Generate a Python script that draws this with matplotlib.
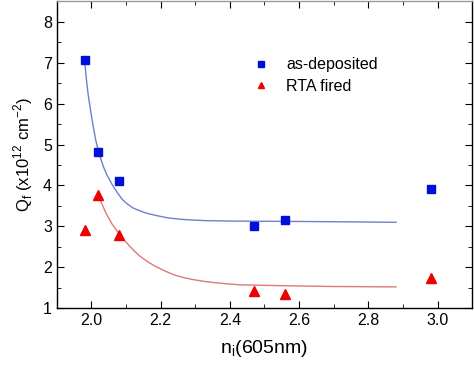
import matplotlib
matplotlib.use("Agg")
import matplotlib.pyplot as plt
from matplotlib.ticker import MultipleLocator

plt.rcParams["font.family"] = ["Liberation Sans", "DejaVu Sans"]

# measured points
n_dep = [1.98, 2.02, 2.08, 2.47, 2.56, 2.98]
q_dep = [7.07, 4.83, 4.12, 3.02, 3.15, 3.92]
n_rta = [1.98, 2.02, 2.08, 2.47, 2.56, 2.98]
q_rta = [2.90, 3.77, 2.80, 1.42, 1.35, 1.75]

# fit curves
fit_dep_x = [1.98, 1.985, 1.99, 1.998, 2.005, 2.012, 2.02, 2.028, 2.035, 2.045, 2.06, 2.075,
             2.09, 2.105, 2.12, 2.14, 2.16, 2.19, 2.22, 2.25, 2.28, 2.33, 2.4, 2.5, 2.6, 2.75, 2.88]
fit_dep_y = [7.07, 6.62, 6.25, 5.80, 5.45, 5.12, 4.84, 4.62, 4.45, 4.25, 4.02, 3.82,
             3.65, 3.54, 3.45, 3.38, 3.32, 3.26, 3.21, 3.18, 3.16, 3.14, 3.13, 3.125, 3.12, 3.11, 3.10]
fit_rta_x = [2.02, 2.03, 2.04, 2.05, 2.06, 2.07, 2.08, 2.095, 2.11, 2.125, 2.14, 2.165, 2.19,
             2.215, 2.24, 2.27, 2.3, 2.33, 2.36, 2.4, 2.43, 2.49, 2.55, 2.62, 2.7, 2.79, 2.88]
fit_rta_y = [3.77, 3.55, 3.36, 3.20, 3.05, 2.93, 2.82, 2.66, 2.52, 2.39, 2.27, 2.12, 2.00,
             1.90, 1.81, 1.74, 1.69, 1.65, 1.62, 1.59, 1.57, 1.56, 1.55, 1.54, 1.53, 1.525, 1.52]

fig = plt.figure(figsize=(4.74, 3.66), dpi=100)
ax = fig.add_axes([0.120, 0.158, 0.876, 0.838])

ax.plot(fit_dep_x, fit_dep_y, "-", color="#7080c8", lw=1.0)
ax.plot(fit_rta_x, fit_rta_y, "-", color="#e07878", lw=1.0)
ax.plot(n_dep, q_dep, "s", color="#0010d8", ms=6, ls="none", label="as-deposited")
ax.plot(n_rta, q_rta, "^", color="#ee0000", ms=7, ls="none", label="RTA fired")

ax.set_xlim(1.9, 3.1)
ax.set_ylim(1, 8.5)
ax.xaxis.set_major_locator(MultipleLocator(0.2))
ax.xaxis.set_minor_locator(MultipleLocator(0.1))
ax.yaxis.set_major_locator(MultipleLocator(1))
ax.yaxis.set_minor_locator(MultipleLocator(0.5))
ax.tick_params(which="both", direction="in", top=True, right=True, labelsize=11.5)
ax.tick_params(which="major", length=5)
ax.tick_params(which="minor", length=3)
ax.set_xticks([2.0, 2.2, 2.4, 2.6, 2.8, 3.0])
ax.set_xticklabels(["2.0", "2.2", "2.4", "2.6", "2.8", "3.0"])
for s in ax.spines.values():
    s.set_linewidth(1.0)
ax.spines["top"].set_color("#999999")

ax.set_xlabel("n$_\\mathregular{i}$(605nm)", fontsize=14, labelpad=7)
ax.set_ylabel("Q$_\\mathregular{f}$ (x10$^\\mathregular{12}$ cm$^\\mathregular{-2}$)", fontsize=12, labelpad=6)

ax.legend(loc="upper left", bbox_to_anchor=(0.429, 0.865), frameon=False, fontsize=11.5,
          handletextpad=0.9, labelspacing=0.4, handlelength=1.4, markerscale=0.7)

fig.savefig("out.png", dpi=100)
